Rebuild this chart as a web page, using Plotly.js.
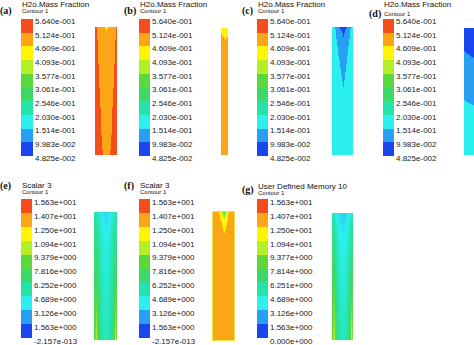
<!DOCTYPE html>
<html><head><meta charset="utf-8">
<script src="https://cdn.plot.ly/plotly-3.0.1.min.js"></script>
<style>html,body{margin:0;padding:0;background:#fff}#chart{width:474px;height:345px}</style>
</head><body><div id="chart"></div>
<script>
// ---------- colour bands (lowest band first) ----------
const bandColors = ['#1a46f0','#27a0f3','#2cf0f0','#24e4aa','#3cd868','#5cd83c','#b4ee26','#fff500','#fca516','#f44c1a'];

// ---------- colour-bar tick labels (top to bottom) ----------
const massLabels = ["5.640e-001","5.124e-001","4.609e-001","4.093e-001","3.577e-001","3.061e-001","2.546e-001","2.030e-001","1.514e-001","9.983e-002","4.825e-002"];
const massLevels = [0.5640,0.5124,0.4609,0.4093,0.3577,0.3061,0.2546,0.2030,0.1514,0.09983,0.04825];
const scalarLabels = ["1.563e+001","1.407e+001","1.250e+001","1.094e+001","9.379e+000","7.816e+000","6.252e+000","4.689e+000","3.126e+000","1.563e+000","-2.157e-013"];
const scalarLevels = [15.63,14.07,12.50,10.94,9.379,7.816,6.252,4.689,3.126,1.563,0];
const udmLabels = ["1.563e+001","1.407e+001","1.250e+001","1.094e+001","9.377e+000","7.814e+000","6.251e+000","4.689e+000","3.126e+000","1.563e+000","0.000e+000"];

// ---------- panel texts ----------
const panelLetters = ["(a)","(b)","(c)","(d)","(e)","(f)","(g)"];
const panelTitles = ["H2o.Mass Fraction","H2o.Mass Fraction","H2o.Mass Fraction","H2o.Mass Fraction","Scalar 3","Scalar 3","User Defined Memory 10"];
const subTitle = "Contour 1";

// ---------- fields (rows bottom -> top) ----------
// (a) H2O mass fraction
const aX = [0,0.1,0.2,0.3,0.4,0.5,0.6,0.7,0.8,0.9,1];
const aY = [0,0.25,0.5,0.75,0.97,1];
const aZ = [
 [0.535,0.532,0.528,0.515,0.500,0.490,0.500,0.515,0.528,0.532,0.535],
 [0.535,0.530,0.526,0.500,0.490,0.485,0.490,0.500,0.526,0.530,0.535],
 [0.535,0.528,0.514,0.495,0.485,0.480,0.485,0.495,0.514,0.528,0.535],
 [0.535,0.522,0.500,0.490,0.482,0.478,0.482,0.490,0.500,0.522,0.535],
 [0.532,0.508,0.492,0.485,0.476,0.466,0.476,0.485,0.492,0.508,0.532],
 [0.532,0.508,0.490,0.480,0.465,0.445,0.465,0.480,0.490,0.508,0.532]
];
// (b)
const bX = [0,0.5,1];
const bY = [0,0.88,0.94,1];
const bZ = [
 [0.490,0.490,0.490],
 [0.490,0.475,0.490],
 [0.465,0.450,0.465],
 [0.450,0.440,0.450]
];
// (c)
const cX = [0,0.15,0.3,0.5,0.7,0.85,1];
const cY = [0,0.45,0.53,0.7,0.85,0.92,1];
const cZ = [
 [0.185,0.185,0.185,0.185,0.185,0.185,0.185],
 [0.180,0.180,0.178,0.175,0.178,0.180,0.180],
 [0.178,0.176,0.170,0.152,0.170,0.176,0.178],
 [0.178,0.172,0.160,0.135,0.160,0.172,0.178],
 [0.176,0.165,0.145,0.120,0.145,0.165,0.176],
 [0.175,0.158,0.135,0.101,0.135,0.158,0.175],
 [0.172,0.150,0.103,0.085,0.103,0.150,0.172]
];
// (d) only the left part of this column is inside the picture
const dX = [0,0.5,1];
const dY = [0,0.3,0.5,0.7,0.9,1];
const dZ = [
 [0.185,0.185,0.185],
 [0.172,0.168,0.172],
 [0.142,0.132,0.142],
 [0.118,0.108,0.118],
 [0.088,0.078,0.088],
 [0.070,0.060,0.070]
];
// (e) Scalar 3
const eX = [0,0.08,0.2,0.35,0.5,0.65,0.8,0.92,1];
const eY = [0,0.2,0.45,0.7,0.9,1];
const eZ = [
 [8.0,10.3,6.4,5.3,5.0,5.3,6.4,10.3,8.0],
 [7.5,9.2,6.2,5.1,4.8,5.1,6.2,9.2,7.5],
 [7.0,7.6,5.8,4.9,4.6,4.9,5.8,7.6,7.0],
 [6.6,6.6,5.5,4.6,4.2,4.6,5.5,6.6,6.6],
 [6.1,5.8,5.0,4.1,3.7,4.1,5.0,5.8,6.1],
 [5.6,5.3,4.5,3.7,3.4,3.7,4.5,5.3,5.6]
];
// (f) Scalar 3
const fX = [0,0.15,0.3,0.5,0.7,0.85,1];
const fY = [0,0.8,0.84,0.92,1];
const fZ = [
 [13.3,13.3,13.3,13.3,13.3,13.3,13.3],
 [13.3,13.2,13.0,12.8,13.0,13.2,13.3],
 [13.3,13.1,12.9,12.5,12.9,13.1,13.3],
 [13.2,13.0,12.9,12.0,12.9,13.0,13.2],
 [13.1,12.9,12.45,8.5,12.45,12.9,13.1]
];
// (g) User Defined Memory 10
const gX = [0,0.08,0.2,0.35,0.5,0.65,0.8,0.92,1];
const gY = [0,0.2,0.45,0.7,0.88,1];
const gZ = [
 [8.2,10.6,6.6,5.3,5.0,5.3,6.6,10.6,8.2],
 [7.8,9.5,6.3,5.1,4.8,5.1,6.3,9.5,7.8],
 [7.2,7.8,5.9,4.8,4.5,4.8,5.9,7.8,7.2],
 [6.6,6.6,5.4,4.4,4.0,4.4,5.4,6.6,6.6],
 [6.0,5.6,4.8,3.9,3.6,3.9,4.8,5.6,6.0],
 [5.2,4.8,4.0,3.5,3.3,3.5,4.0,4.8,5.2]
];

// ---------- helpers ----------
const W = 474, H = 345;
const px = v => v / W;
const py = v => 1 - v / H;
const nB = bandColors.length;
const bandScale = bandColors.map((c,k) => [k/(nB-1), c]);
const stepScale = [];
bandColors.forEach((c,k) => { stepScale.push([k/nB, c]); stepScale.push([(k+1)/nB, c]); });
const smoothScale = [[0,bandColors[0]]].concat(bandColors.map((c,k)=>[(k+0.5)/nB, c])).concat([[1,bandColors[nB-1]]]);
const axName = (p,i) => (i===1 ? p+'axis' : p+'axis'+i);
const axRef = (p,i) => (i===1 ? p : p+i);

const data = [];
const layout = {
  width: W, height: H, margin:{l:0,r:0,t:0,b:0},
  paper_bgcolor:'#fff', plot_bgcolor:'#fff', showlegend:false,
  font:{family:'Arial, "Liberation Sans", sans-serif', color:'#111'},
  annotations: []
};

// colour bars
const cbBoxes = [
  // [x0,x1,y0,y1,labels,shift]
  [21,33,19,156,massLabels,2],
  [139,150,19,156,massLabels,2],
  [257,268,19,156,massLabels,2],
  [383,394,19,156,massLabels,2],
  [21,32,199,338,scalarLabels,3],
  [139,150,199,338,scalarLabels,3],
  [257,268,199,338,udmLabels,3]
];
let ai = 1;
cbBoxes.forEach(b => {
  const [x0,x1,y0,y1,labels,shift] = b;
  data.push({type:'heatmap', x:[0], y:bandColors.map((c,k)=>k+0.5), z:bandColors.map((c,k)=>[k]),
    zmin:0, zmax:nB-1, colorscale:bandScale, showscale:false, hoverinfo:'skip',
    xaxis:axRef('x',ai), yaxis:axRef('y',ai)});
  layout[axName('x',ai)] = {domain:[px(x0),px(x1)], range:[-0.5,0.5], visible:false, fixedrange:true, anchor:axRef('y',ai)};
  layout[axName('y',ai)] = {domain:[py(y1),py(y0)], range:[0,nB], anchor:axRef('x',ai), side:'right',
    tickmode:'array', tickvals:labels.map((l,k)=>k), ticktext:labels.slice().reverse(),
    ticks:'', showgrid:false, zeroline:false, showline:false, fixedrange:true,
    ticklabelshift:shift, ticklabelstandoff:1, ticklabeloverflow:'allow',
    tickfont:{size:8, color:'#222', family:'Arial, "Liberation Sans", sans-serif'}};
  ai++;
});

// banded fields: bilinear field values painted through the stepped band scale
function bandTrace(x,y,z,levelsDesc) {
  return {type:'heatmap', x:x, y:y, z:z, zsmooth:'best', zmin:levelsDesc[levelsDesc.length-1], zmax:levelsDesc[0],
    colorscale:stepScale, showscale:false, hoverinfo:'skip'};
}
function smoothTrace(x,y,z,levelsDesc) {
  return {type:'heatmap', x:x, y:y, z:z, zsmooth:'best', zmin:levelsDesc[levelsDesc.length-1], zmax:levelsDesc[0],
    colorscale:smoothScale, showscale:false, hoverinfo:'skip'};
}
const fields = [
  [bandTrace(aX,aY,aZ,massLevels), 95,117,27,155,[0,1], null],
  [bandTrace(bX,bY,bZ,massLevels), 221,228,28,155,[0,1], null],
  [bandTrace(cX,cY,cZ,massLevels), 332,353,27,155,[0,1], null],
  [bandTrace(dX,dY,dZ,massLevels), 464,474,28,155,[0,0.476], null],
  [smoothTrace(eX,eY,eZ,scalarLevels), 94,117,212,340,[0,1], null],
  [bandTrace(fX,fY,fZ,scalarLevels), 213,234,212,340,[0,1], '#e2e640'],
  [smoothTrace(gX,gY,gZ,scalarLevels), 332,353,213,340,[0,1], null]
];
fields.forEach(f => {
  const [tr,x0,x1,y0,y1,xr,border] = f;
  tr.xaxis = axRef('x',ai); tr.yaxis = axRef('y',ai);
  data.push(tr);
  const common = {showgrid:false, zeroline:false, showticklabels:false, ticks:'', fixedrange:true};
  if (border) {
    layout[axName('x',ai)] = Object.assign({domain:[px(x0),px(x1)], range:xr, anchor:axRef('y',ai), showline:true, mirror:true, linecolor:border, linewidth:1}, common);
    layout[axName('y',ai)] = Object.assign({domain:[py(y1),py(y0)], range:[0,1], anchor:axRef('x',ai), showline:true, mirror:true, linecolor:border, linewidth:1}, common);
  } else {
    layout[axName('x',ai)] = {domain:[px(x0),px(x1)], range:xr, anchor:axRef('y',ai), visible:false, fixedrange:true};
    layout[axName('y',ai)] = {domain:[py(y1),py(y0)], range:[0,1], anchor:axRef('x',ai), visible:false, fixedrange:true};
  }
  ai++;
});

// texts
const textPos = [
  // [letterX, letterY, titleX, titleY, subY]
  [-2, 11, 20, 4.5, 10.5],
  [122, 11, 138, 4.5, 10.5],
  [240, 11, 256, 4.5, 10.5],
  [367, 14, 382, 5, 14],
  [-2, 186, 20, 185.5, 191.5],
  [122, 186, 138, 185.5, 191.5],
  [240, 190, 256, 186.5, 192.5]
];
textPos.forEach((t,k) => {
  layout.annotations.push({text:'<b>'+panelLetters[k]+'</b>', xref:'paper', yref:'paper', x:px(t[0]), y:py(t[1]),
    xanchor:'left', yanchor:'middle', showarrow:false,
    font:{family:'"Liberation Serif", "Times New Roman", serif', size:10, color:'#111'}});
  layout.annotations.push({text:panelTitles[k], xref:'paper', yref:'paper', x:px(t[2]), y:py(t[3]),
    xanchor:'left', yanchor:'middle', showarrow:false, font:{size:8, color:'#111'}});
  layout.annotations.push({text:subTitle, xref:'paper', yref:'paper', x:px(t[2]), y:py(t[4]),
    xanchor:'left', yanchor:'middle', showarrow:false, font:{size:6, color:'#111'}});
});

Plotly.newPlot('chart', data, layout, {staticPlot:true, displayModeBar:false});
</script>
</body></html>
